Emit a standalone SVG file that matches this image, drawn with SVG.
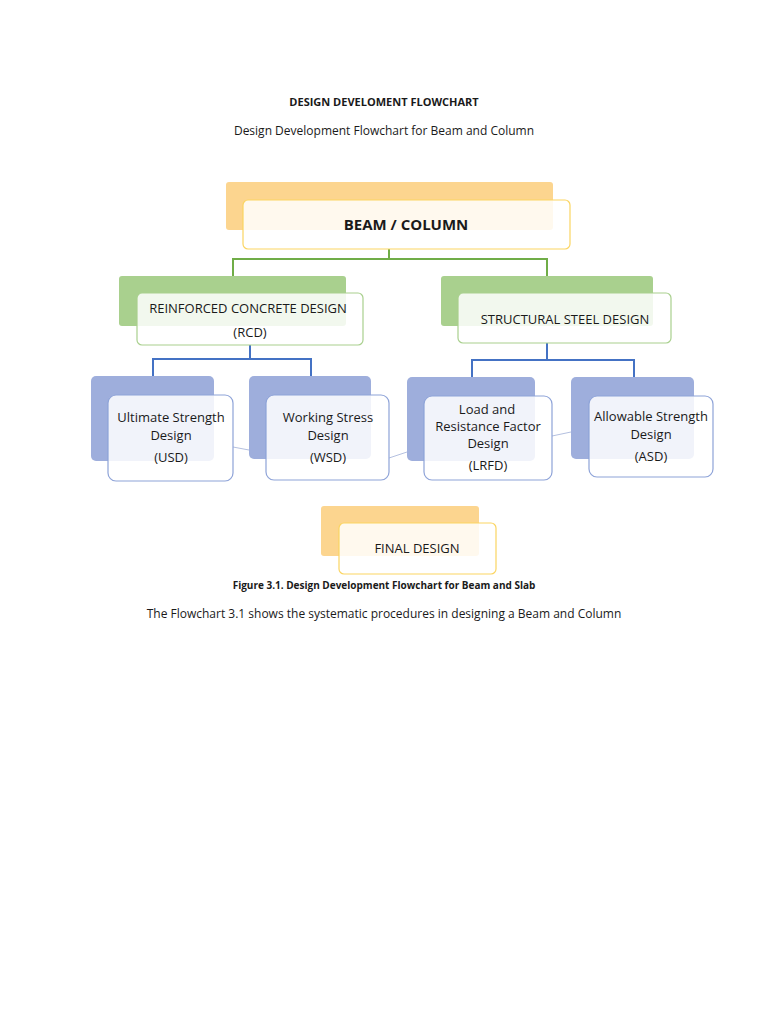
<svg xmlns="http://www.w3.org/2000/svg" width="768" height="1024" viewBox="0 0 768 1024">
<style>
text{font-family:"Open Sans","Liberation Sans",sans-serif;fill:#1a1a1a;text-anchor:middle}
.t{font-size:13px}
.f{fill:#fff;fill-opacity:.85;stroke-width:1.2}
.o{fill:#fcd58f}.g{fill:#a9d08e}.b{fill:#9eaedc}
.fo{stroke:#fbd562}.fg{stroke:#a9d08e}.fb{stroke:#8ea3d8}
</style>
<rect width="768" height="1024" fill="#fff"/>
<text x="384" y="106" font-size="11" font-weight="bold">DESIGN DEVELOMENT FLOWCHART</text>
<text x="384" y="135" font-size="12">Design Development Flowchart for Beam and Column</text>
<g id="connectors" fill="none">
<path d="M389 249V259M233 276V259H547V276" stroke="#70ad47" stroke-width="2"/>
<path d="M250 345V359M153 376V359H311V376M547 343V360M472 377V360H634V377" stroke="#4472c4" stroke-width="2"/>
<path d="M233 447L249 450M389 458L407 452M552 436L571 432" stroke="#b4c0e0" stroke-width="1"/>
</g>
<g id="beam"><rect class="o" x="226" y="182" width="327" height="48" rx="3"/><rect class="f fo" x="243" y="200" width="327" height="49" rx="5"/><text x="406" y="230" font-size="15" font-weight="bold">BEAM / COLUMN</text></g>
<g id="rcd"><rect class="g" x="119" y="276" width="227" height="50" rx="3"/><rect class="f fg" x="137" y="293" width="226" height="52" rx="5"/><text class="t" x="248" y="313">REINFORCED CONCRETE DESIGN</text><text class="t" x="250" y="337">(RCD)</text></g>
<g id="ssd"><rect class="g" x="441" y="276" width="212" height="50" rx="3"/><rect class="f fg" x="458" y="293" width="213" height="50" rx="5"/><text class="t" x="565" y="324">STRUCTURAL STEEL DESIGN</text></g>
<g id="usd"><rect class="b" x="91" y="376" width="123" height="85" rx="5"/><rect class="f fb" x="108" y="395" width="125" height="86" rx="8"/><text class="t" x="171" y="422">Ultimate Strength</text><text class="t" x="171" y="440">Design</text><text class="t" x="171" y="462">(USD)</text></g>
<g id="wsd"><rect class="b" x="249" y="376" width="122" height="83" rx="5"/><rect class="f fb" x="266" y="395" width="123" height="85" rx="8"/><text class="t" x="328" y="422">Working Stress</text><text class="t" x="328" y="440">Design</text><text class="t" x="328" y="462">(WSD)</text></g>
<g id="lrfd"><rect class="b" x="407" y="377" width="128" height="84" rx="5"/><rect class="f fb" x="424" y="396" width="128" height="84" rx="8"/><text class="t" x="487" y="414">Load and</text><text class="t" x="488" y="431">Resistance Factor</text><text class="t" x="488" y="448">Design</text><text class="t" x="488" y="470">(LRFD)</text></g>
<g id="asd"><rect class="b" x="571" y="377" width="123" height="82" rx="5"/><rect class="f fb" x="589" y="396" width="124" height="81" rx="8"/><text class="t" x="651" y="421">Allowable Strength</text><text class="t" x="651" y="439">Design</text><text class="t" x="651" y="461">(ASD)</text></g>
<g id="final"><rect class="o" x="321" y="506" width="158" height="50" rx="3"/><rect class="f fo" x="339" y="523" width="157" height="51" rx="5"/><text class="t" x="417" y="553">FINAL DESIGN</text></g>
<text x="384" y="589" font-size="10" font-weight="bold">Figure 3.1. Design Development Flowchart for Beam and Slab</text>
<text x="384" y="618" font-size="12">The Flowchart 3.1 shows the systematic procedures in designing a Beam and Column</text>
</svg>
